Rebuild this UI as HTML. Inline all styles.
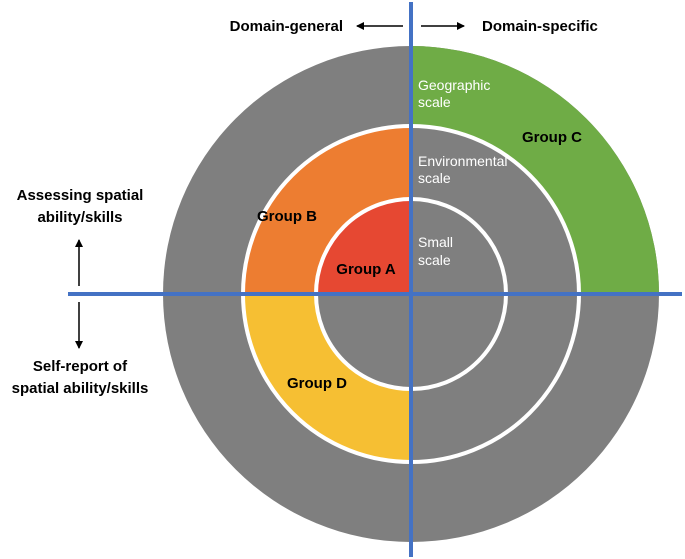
<!DOCTYPE html>
<html><head><meta charset="utf-8"><style>
html,body{margin:0;padding:0;background:#fff;}
svg{display:block;}
text{font-family:"Liberation Sans",sans-serif;}
</style></head><body>
<svg width="685" height="559" viewBox="0 0 685 559" xmlns="http://www.w3.org/2000/svg">
<defs>
<marker id="ah" markerWidth="8" markerHeight="8" refX="7" refY="4" orient="auto" markerUnits="userSpaceOnUse">
<path d="M0,0 L8,4 L0,8 Z" fill="#000"/>
</marker>
</defs>
<circle cx="411" cy="294" r="248" fill="#7f7f7f"/>
<!-- green top-right ring -->
<path d="M411,294 L411,46 A248,248 0 0 1 659,294 Z" fill="#6fac46"/>
<circle cx="411" cy="294" r="168" fill="#7f7f7f"/>
<!-- orange top-left -->
<path d="M411,294 L243,294 A168,168 0 0 1 411,126 Z" fill="#ed7d31"/>
<!-- yellow bottom-left -->
<path d="M411,294 L411,462 A168,168 0 0 1 243,294 Z" fill="#f6bf33"/>
<circle cx="411" cy="294" r="95" fill="#7f7f7f"/>
<path d="M411,294 L316,294 A95,95 0 0 1 411,199 Z" fill="#e64832"/>
<circle cx="411" cy="294" r="168" fill="none" stroke="#fff" stroke-width="4"/>
<circle cx="411" cy="294" r="95" fill="none" stroke="#fff" stroke-width="4"/>
<!-- axes -->
<line x1="68" y1="294" x2="682" y2="294" stroke="#4472c4" stroke-width="4"/>
<line x1="411" y1="2" x2="411" y2="557" stroke="#4472c4" stroke-width="4"/>
<!-- arrows -->
<line x1="403" y1="26" x2="357" y2="26" stroke="#000" stroke-width="1.5" marker-end="url(#ah)"/>
<line x1="421" y1="26" x2="464" y2="26" stroke="#000" stroke-width="1.5" marker-end="url(#ah)"/>
<line x1="79" y1="286" x2="79" y2="240" stroke="#000" stroke-width="1.5" marker-end="url(#ah)"/>
<line x1="79" y1="302" x2="79" y2="348" stroke="#000" stroke-width="1.5" marker-end="url(#ah)"/>
<!-- labels -->
<g font-weight="bold" font-size="15" fill="#000">
<text x="343" y="31" text-anchor="end">Domain-general</text>
<text x="482" y="31">Domain-specific</text>
<text x="80" y="200" text-anchor="middle">Assessing spatial</text>
<text x="80" y="222" text-anchor="middle">ability/skills</text>
<text x="80" y="371" text-anchor="middle">Self-report of</text>
<text x="80" y="393" text-anchor="middle">spatial ability/skills</text>
<text x="287" y="221" text-anchor="middle">Group B</text>
<text x="366" y="274" text-anchor="middle">Group A</text>
<text x="552" y="142" text-anchor="middle">Group C</text>
<text x="317" y="388" text-anchor="middle">Group D</text>
</g>
<g font-size="14" fill="#fff">
<text x="418" y="90">Geographic</text>
<text x="418" y="107">scale</text>
<text x="418" y="166">Environmental</text>
<text x="418" y="183">scale</text>
<text x="418" y="247">Small</text>
<text x="418" y="265">scale</text>
</g>
</svg>
</body></html>
